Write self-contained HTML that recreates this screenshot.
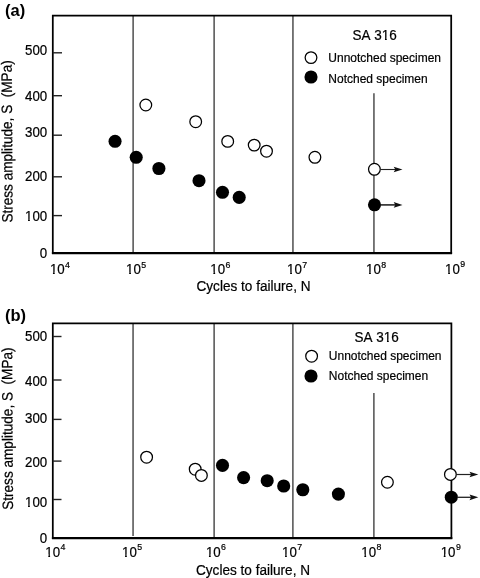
<!DOCTYPE html>
<html><head><meta charset="utf-8"><style>
html,body{margin:0;padding:0;background:#fff;width:480px;height:578px;overflow:hidden}
svg{display:block;font-kerning:none;}
</style></head><body>
<svg width="480" height="578" viewBox="0 0 480 578" font-family="'Liberation Sans', Arial, Helvetica, sans-serif" fill="#000">
<rect width="480" height="578" fill="#fff"/>
<g>
<line x1="133.1" y1="15.6" x2="133.1" y2="253.2" stroke="#333" stroke-width="1.3"/>
<line x1="214.1" y1="15.6" x2="214.1" y2="253.2" stroke="#333" stroke-width="1.3"/>
<line x1="292.95" y1="15.6" x2="292.95" y2="253.2" stroke="#333" stroke-width="1.3"/>
<line x1="373.95" y1="93.2" x2="373.95" y2="253.2" stroke="#333" stroke-width="1.3"/>
<path d="M52.8,253.2 V15.7 H451.2 V253.2" fill="none" stroke="#000" stroke-width="1.75" stroke-linejoin="miter" stroke-linecap="square"/>
<line x1="51.9" y1="253.2" x2="452.1" y2="253.2" stroke="#000" stroke-width="2.3"/>
<line x1="52.8" y1="52.8" x2="62" y2="52.8" stroke="#222" stroke-width="1.4"/>
<line x1="52.8" y1="95.7" x2="62" y2="95.7" stroke="#222" stroke-width="1.4"/>
<line x1="52.8" y1="135.2" x2="62" y2="135.2" stroke="#222" stroke-width="1.4"/>
<line x1="52.8" y1="176.8" x2="62" y2="176.8" stroke="#222" stroke-width="1.4"/>
<line x1="52.8" y1="215.6" x2="62" y2="215.6" stroke="#222" stroke-width="1.4"/>
<g transform="translate(47.2,55.2) scale(1,1.13)"><text font-size="13.3" text-anchor="end" stroke="#000" stroke-width="0.2">500</text></g>
<g transform="translate(47.2,100.8) scale(1,1.13)"><text font-size="13.3" text-anchor="end" stroke="#000" stroke-width="0.2">400</text></g>
<g transform="translate(47.2,137.1) scale(1,1.13)"><text font-size="13.3" text-anchor="end" stroke="#000" stroke-width="0.2">300</text></g>
<g transform="translate(47.2,181.3) scale(1,1.13)"><text font-size="13.3" text-anchor="end" stroke="#000" stroke-width="0.2">200</text></g>
<g transform="translate(47.2,221.3) scale(1,1.13)"><text font-size="13.3" text-anchor="end" stroke="#000" stroke-width="0.2">100</text><rect x="-22.29" y="-2.14" width="3.15" height="3.25" fill="#fff"/><rect x="-17.35" y="-2.14" width="2.95" height="3.25" fill="#fff"/></g>
<g transform="translate(47.2,257.8) scale(1,1.13)"><text font-size="13.3" text-anchor="end" stroke="#000" stroke-width="0.2">0</text></g>
<g transform="translate(49.9,274.2) scale(1,1.13)"><text font-size="13.3" stroke="#000" stroke-width="0.2">10<tspan dx="0.4" dy="-5.9" font-size="8.8">4</tspan></text><rect x="-0.10" y="-2.14" width="3.15" height="3.25" fill="#fff"/><rect x="4.84" y="-2.14" width="2.95" height="3.25" fill="#fff"/></g>
<g transform="translate(126.1,274.2) scale(1,1.13)"><text font-size="13.3" stroke="#000" stroke-width="0.2">10<tspan dx="0.4" dy="-5.9" font-size="8.8">5</tspan></text><rect x="-0.10" y="-2.14" width="3.15" height="3.25" fill="#fff"/><rect x="4.84" y="-2.14" width="2.95" height="3.25" fill="#fff"/></g>
<g transform="translate(210.3,274.2) scale(1,1.13)"><text font-size="13.3" stroke="#000" stroke-width="0.2">10<tspan dx="0.4" dy="-5.9" font-size="8.8">6</tspan></text><rect x="-0.10" y="-2.14" width="3.15" height="3.25" fill="#fff"/><rect x="4.84" y="-2.14" width="2.95" height="3.25" fill="#fff"/></g>
<g transform="translate(287.1,274.2) scale(1,1.13)"><text font-size="13.3" stroke="#000" stroke-width="0.2">10<tspan dx="0.4" dy="-5.9" font-size="8.8">7</tspan></text><rect x="-0.10" y="-2.14" width="3.15" height="3.25" fill="#fff"/><rect x="4.84" y="-2.14" width="2.95" height="3.25" fill="#fff"/></g>
<g transform="translate(366.0,274.2) scale(1,1.13)"><text font-size="13.3" stroke="#000" stroke-width="0.2">10<tspan dx="0.4" dy="-5.9" font-size="8.8">8</tspan></text><rect x="-0.10" y="-2.14" width="3.15" height="3.25" fill="#fff"/><rect x="4.84" y="-2.14" width="2.95" height="3.25" fill="#fff"/></g>
<g transform="translate(445.1,274.1) scale(1,1.13)"><text font-size="13.3" stroke="#000" stroke-width="0.2">10<tspan dx="0.4" dy="-5.9" font-size="8.8">9</tspan></text><rect x="-0.10" y="-2.14" width="3.15" height="3.25" fill="#fff"/><rect x="4.84" y="-2.14" width="2.95" height="3.25" fill="#fff"/></g>
<text transform="translate(196.5,291.0) scale(1,1.1)" font-size="13.6" stroke="#000" stroke-width="0.2" >Cycles to failure, N</text>
<text transform="translate(12.6,222.6) rotate(-90.3) scale(1,1.1)" font-size="13.6" stroke="#000" stroke-width="0.2" xml:space="preserve">Stress amplitude, S  (MPa)</text>
<text x="5" y="15.9" font-size="16.5" font-weight="bold">(a)</text>
<g transform="translate(352.6,40) scale(1,1.08)"><text font-size="13.5" stroke="#000" stroke-width="0.2">SA 316</text><rect x="29.17" y="-2.18" width="3.20" height="3.30" fill="#fff"/><rect x="34.18" y="-2.18" width="3.00" height="3.30" fill="#fff"/></g>
<text transform="translate(328.3,61.7) scale(1,1.05)" font-size="12" stroke="#000" stroke-width="0.2" >Unnotched specimen</text>
<text transform="translate(328.3,83) scale(1,1.05)" font-size="12" stroke="#000" stroke-width="0.2" >Notched specimen</text>
<circle cx="311" cy="57.6" r="5.85" fill="#fff" stroke="#000" stroke-width="1.25"/>
<circle cx="311" cy="77" r="6.55" fill="#000"/>
<line x1="380.7" y1="169.5" x2="396.5" y2="169.5" stroke="#222" stroke-width="1.1"/>
<path d="M402.5,169.5 L393.7,166.65 L395.3,169.5 L393.7,172.35 Z" fill="#111"/>
<line x1="381" y1="204.9" x2="396.5" y2="204.9" stroke="#333" stroke-width="1.7"/>
<path d="M402.5,204.9 L393.7,202.05 L395.3,204.9 L393.7,207.75 Z" fill="#111"/>
<circle cx="145.8" cy="105" r="5.85" fill="#fff" stroke="#000" stroke-width="1.25"/>
<circle cx="195.7" cy="121.7" r="5.85" fill="#fff" stroke="#000" stroke-width="1.25"/>
<circle cx="227.7" cy="141.4" r="5.85" fill="#fff" stroke="#000" stroke-width="1.25"/>
<circle cx="254.2" cy="145.1" r="5.85" fill="#fff" stroke="#000" stroke-width="1.25"/>
<circle cx="266.5" cy="151.2" r="5.85" fill="#fff" stroke="#000" stroke-width="1.25"/>
<circle cx="314.9" cy="157.3" r="5.85" fill="#fff" stroke="#000" stroke-width="1.25"/>
<circle cx="115.05" cy="141.3" r="6.55" fill="#000"/>
<circle cx="136.2" cy="157.3" r="6.55" fill="#000"/>
<circle cx="158.9" cy="168.5" r="6.55" fill="#000"/>
<circle cx="199" cy="180.7" r="6.55" fill="#000"/>
<circle cx="222.5" cy="192.3" r="6.55" fill="#000"/>
<circle cx="239.2" cy="197.4" r="6.55" fill="#000"/>
<circle cx="374.4" cy="169.3" r="5.85" fill="#fff" stroke="#000" stroke-width="1.25"/>
<circle cx="374.5" cy="204.8" r="6.55" fill="#000"/>
<line x1="133.05" y1="323.4" x2="133.05" y2="536" stroke="#333" stroke-width="1.3"/>
<line x1="214.1" y1="323.4" x2="214.1" y2="537" stroke="#333" stroke-width="1.3"/>
<line x1="292.9" y1="323.4" x2="292.9" y2="537" stroke="#333" stroke-width="1.3"/>
<line x1="373.9" y1="393.1" x2="373.9" y2="537" stroke="#333" stroke-width="1.3"/>
<path d="M52.8,538.1 V323.4 H451.4 V538.1" fill="none" stroke="#000" stroke-width="1.75" stroke-linejoin="miter" stroke-linecap="square"/>
<line x1="51.9" y1="538.1" x2="452.3" y2="538.1" stroke="#000" stroke-width="2.3"/>
<line x1="52.8" y1="336.5" x2="61.5" y2="336.5" stroke="#222" stroke-width="1.4"/>
<line x1="52.8" y1="380.0" x2="61.5" y2="380.0" stroke="#222" stroke-width="1.4"/>
<line x1="52.8" y1="419.4" x2="61.5" y2="419.4" stroke="#222" stroke-width="1.4"/>
<line x1="52.8" y1="461.1" x2="61.5" y2="461.1" stroke="#222" stroke-width="1.4"/>
<line x1="52.8" y1="499.5" x2="61.5" y2="499.5" stroke="#222" stroke-width="1.4"/>
<g transform="translate(47.2,340.5) scale(1,1.13)"><text font-size="13.3" text-anchor="end" stroke="#000" stroke-width="0.2">500</text></g>
<g transform="translate(47.2,386.3) scale(1,1.13)"><text font-size="13.3" text-anchor="end" stroke="#000" stroke-width="0.2">400</text></g>
<g transform="translate(47.2,422.8) scale(1,1.13)"><text font-size="13.3" text-anchor="end" stroke="#000" stroke-width="0.2">300</text></g>
<g transform="translate(47.2,466.5) scale(1,1.13)"><text font-size="13.3" text-anchor="end" stroke="#000" stroke-width="0.2">200</text></g>
<g transform="translate(47.2,506.5) scale(1,1.13)"><text font-size="13.3" text-anchor="end" stroke="#000" stroke-width="0.2">100</text><rect x="-22.29" y="-2.14" width="3.15" height="3.25" fill="#fff"/><rect x="-17.35" y="-2.14" width="2.95" height="3.25" fill="#fff"/></g>
<g transform="translate(47.2,542.8) scale(1,1.13)"><text font-size="13.3" text-anchor="end" stroke="#000" stroke-width="0.2">0</text></g>
<g transform="translate(45.25,556.6) scale(1,1.13)"><text font-size="13.3" stroke="#000" stroke-width="0.2">10<tspan dx="0.4" dy="-5.9" font-size="8.8">4</tspan></text><rect x="-0.10" y="-2.14" width="3.15" height="3.25" fill="#fff"/><rect x="4.84" y="-2.14" width="2.95" height="3.25" fill="#fff"/></g>
<g transform="translate(122.0,556.6) scale(1,1.13)"><text font-size="13.3" stroke="#000" stroke-width="0.2">10<tspan dx="0.4" dy="-5.9" font-size="8.8">5</tspan></text><rect x="-0.10" y="-2.14" width="3.15" height="3.25" fill="#fff"/><rect x="4.84" y="-2.14" width="2.95" height="3.25" fill="#fff"/></g>
<g transform="translate(205.9,556.6) scale(1,1.13)"><text font-size="13.3" stroke="#000" stroke-width="0.2">10<tspan dx="0.4" dy="-5.9" font-size="8.8">6</tspan></text><rect x="-0.10" y="-2.14" width="3.15" height="3.25" fill="#fff"/><rect x="4.84" y="-2.14" width="2.95" height="3.25" fill="#fff"/></g>
<g transform="translate(282.0,556.6) scale(1,1.13)"><text font-size="13.3" stroke="#000" stroke-width="0.2">10<tspan dx="0.4" dy="-5.9" font-size="8.8">7</tspan></text><rect x="-0.10" y="-2.14" width="3.15" height="3.25" fill="#fff"/><rect x="4.84" y="-2.14" width="2.95" height="3.25" fill="#fff"/></g>
<g transform="translate(361.3,556.6) scale(1,1.13)"><text font-size="13.3" stroke="#000" stroke-width="0.2">10<tspan dx="0.4" dy="-5.9" font-size="8.8">8</tspan></text><rect x="-0.10" y="-2.14" width="3.15" height="3.25" fill="#fff"/><rect x="4.84" y="-2.14" width="2.95" height="3.25" fill="#fff"/></g>
<g transform="translate(440.7,556.6) scale(1,1.13)"><text font-size="13.3" stroke="#000" stroke-width="0.2">10<tspan dx="0.4" dy="-5.9" font-size="8.8">9</tspan></text><rect x="-0.10" y="-2.14" width="3.15" height="3.25" fill="#fff"/><rect x="4.84" y="-2.14" width="2.95" height="3.25" fill="#fff"/></g>
<text transform="translate(196,574.5) scale(1,1.1)" font-size="13.6" stroke="#000" stroke-width="0.2" >Cycles to failure, N</text>
<text transform="translate(13.0,509.8) rotate(-90.3) scale(1,1.1)" font-size="13.6" stroke="#000" stroke-width="0.2" xml:space="preserve">Stress amplitude, S  (MPa)</text>
<text x="5" y="321.4" font-size="16.5" font-weight="bold">(b)</text>
<g transform="translate(354.6,341.6) scale(1,1.08)"><text font-size="13.5" stroke="#000" stroke-width="0.2">SA 316</text><rect x="29.17" y="-2.18" width="3.20" height="3.30" fill="#fff"/><rect x="34.18" y="-2.18" width="3.00" height="3.30" fill="#fff"/></g>
<text transform="translate(328.8,359.8) scale(1,1.05)" font-size="12" stroke="#000" stroke-width="0.2" >Unnotched specimen</text>
<text transform="translate(328.8,380) scale(1,1.05)" font-size="12" stroke="#000" stroke-width="0.2" >Notched specimen</text>
<circle cx="311.6" cy="356.2" r="5.85" fill="#fff" stroke="#000" stroke-width="1.25"/>
<circle cx="311" cy="376" r="6.55" fill="#000"/>
<line x1="456.7" y1="474.5" x2="472.3" y2="474.5" stroke="#222" stroke-width="1.2"/>
<path d="M478.3,474.5 L469.5,471.65 L471.1,474.5 L469.5,477.35 Z" fill="#111"/>
<line x1="457.7" y1="497.3" x2="472.3" y2="497.3" stroke="#222" stroke-width="1.3"/>
<path d="M478.3,497.3 L469.5,494.45 L471.1,497.3 L469.5,500.15 Z" fill="#111"/>
<circle cx="146.6" cy="457.2" r="5.85" fill="#fff" stroke="#000" stroke-width="1.25"/>
<circle cx="195.2" cy="469.2" r="5.85" fill="#fff" stroke="#000" stroke-width="1.25"/>
<circle cx="201.4" cy="475.4" r="5.85" fill="#fff" stroke="#000" stroke-width="1.25"/>
<circle cx="387.4" cy="482.25" r="5.85" fill="#fff" stroke="#000" stroke-width="1.25"/>
<circle cx="222.5" cy="465.4" r="6.55" fill="#000"/>
<circle cx="243.6" cy="477.6" r="6.55" fill="#000"/>
<circle cx="267.2" cy="480.7" r="6.55" fill="#000"/>
<circle cx="283.7" cy="486" r="6.55" fill="#000"/>
<circle cx="302.8" cy="489.75" r="6.55" fill="#000"/>
<circle cx="338.4" cy="494.1" r="6.55" fill="#000"/>
<circle cx="450.4" cy="474.4" r="5.85" fill="#fff" stroke="#000" stroke-width="1.25"/>
<circle cx="451.3" cy="497.2" r="6.55" fill="#000"/>
</g>
</svg>
</body></html>
